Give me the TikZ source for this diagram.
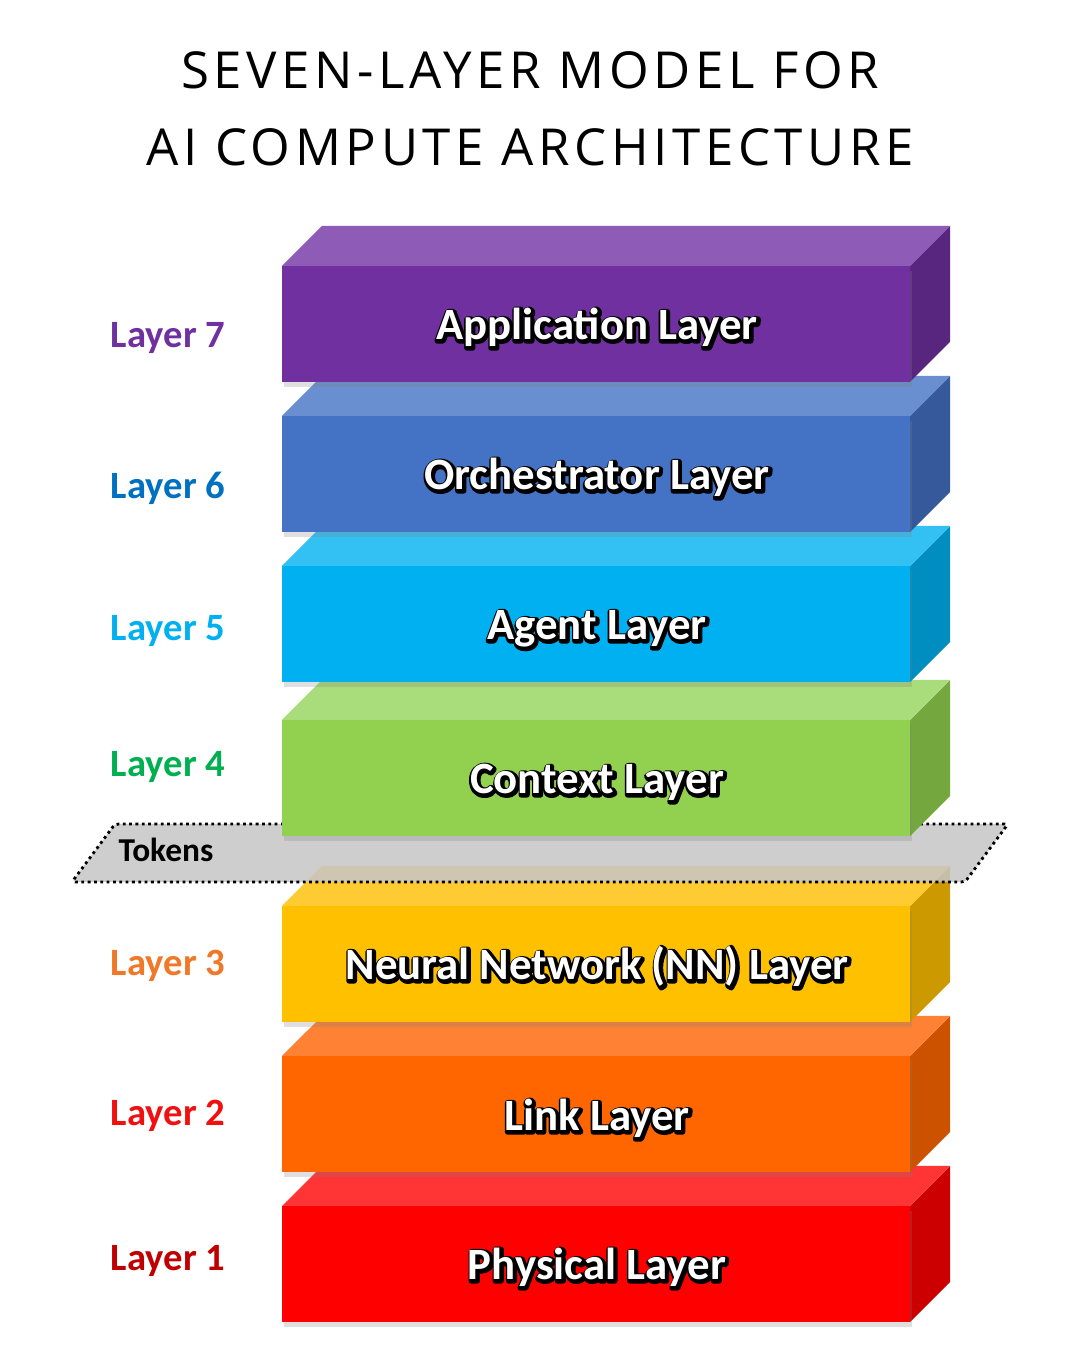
\documentclass[tikz,border=0pt]{standalone}
\usepackage{fontspec}
\setmainfont{Carlito}
\newfontfamily\titlefont[LetterSpace=9]{Open Sans}
\usepackage{tikz}
\usetikzlibrary{positioning, shadows, calc}

\definecolor{appfront}{HTML}{7030A0}\definecolor{apptop}{HTML}{8E5CB6}\definecolor{appside}{HTML}{59267F}
\definecolor{orcfront}{HTML}{4472C4}\definecolor{orctop}{HTML}{6A8FD1}\definecolor{orcside}{HTML}{35599A}
\definecolor{agtfront}{HTML}{00B0F0}\definecolor{agttop}{HTML}{33C1F4}\definecolor{agtside}{HTML}{008DC0}
\definecolor{ctxfront}{HTML}{92D050}\definecolor{ctxtop}{HTML}{A9DC7A}\definecolor{ctxside}{HTML}{74A83E}
\definecolor{nnfront}{HTML}{FFC000}\definecolor{nntop}{HTML}{FFCB33}\definecolor{nnside}{HTML}{CC9A00}
\definecolor{lnkfront}{HTML}{FF6600}\definecolor{lnktop}{HTML}{FF8133}\definecolor{lnkside}{HTML}{CC5200}
\definecolor{phyfront}{HTML}{FF0000}\definecolor{phytop}{HTML}{FF3535}\definecolor{physide}{HTML}{CC0000}
\definecolor{labseven}{HTML}{7030A0}\definecolor{labsix}{HTML}{0070C0}\definecolor{labfive}{HTML}{00B0F0}
\definecolor{labfour}{HTML}{00B050}\definecolor{labthree}{HTML}{F07828}\definecolor{labtwo}{HTML}{F01010}
\definecolor{labone}{HTML}{C00000}

% white text over a black stroked copy
\newcommand{\halotext}[1]{%
  \rlap{\kern0.5pt\raisebox{-0.5pt}{\color{black}%
    \special{pdf:literal direct 0 0 0 RG 3.2 w 1 j 1 Tr}#1%
    \special{pdf:literal direct 0 Tr}}}%
  {\color{white}#1}}

\begin{document}
\begin{tikzpicture}[
    layerlabel/.style={font=\fontsize{22}{26}\selectfont\bfseries, anchor=base},
    blocktext/.style={font=\fontsize{25.5}{30}\selectfont\bfseries, anchor=base},
    pics/slab/.style n args={3}{code={
        \fill[#3] (12.56,0) -- (13.36,0.8) -- (13.36,3.12) -- (12.56,2.32) -- cycle;
        \fill[#2] (0,2.32) -- (12.56,2.32) -- (13.36,3.12) -- (0.8,3.12) -- cycle;
        \fill[#1, drop shadow={shadow xshift=1pt, shadow yshift=-3pt, opacity=0.25}]
            (0,0) rectangle (12.56,2.32);
    }}
]
    \useasboundingbox (0,0) rectangle (21.6,27);

    % Title
    \node[font=\titlefont\fontsize{29}{43.7}\selectfont, align=center] (title) at (10.6, 24.83)
        {SEVEN-LAYER MODEL FOR\\AI COMPUTE ARCHITECTURE};

    % === Layer 1: Physical ===
    \pic at (5.64, 0.56) {slab={phyfront}{phytop}{physide}};
    \node[blocktext] (phy) at (11.94, 1.4) {\halotext{Physical Layer}};
    \node[layerlabel, text=labone] (l1) at (3.36, 1.58) {Layer 1};

    % === Layer 2: Link ===
    \pic at (5.64, 3.56) {slab={lnkfront}{lnktop}{lnkside}};
    \node[blocktext] (lnk) at (11.94, 4.38) {\halotext{Link Layer}};
    \node[layerlabel, text=labtwo] (l2) at (3.36, 4.48) {Layer 2};

    % === Layer 3: Neural Network ===
    \pic at (5.64, 6.56) {slab={nnfront}{nntop}{nnside}};
    \node[blocktext] (nn) at (11.94, 7.4) {\halotext{Neural Network (NN) Layer}};
    \node[layerlabel, text=labthree] (l3) at (3.36, 7.48) {Layer 3};

    % === Tokens plane ===
    \draw[fill=gray!45, fill opacity=0.85, dotted, line width=1.6pt, rounded corners=2pt]
        (1.44, 9.36) -- (2.30, 10.52) -- (20.16, 10.52) -- (19.30, 9.36) -- cycle;
    \node[font=\fontsize{19}{22}\selectfont\bfseries, anchor=base] (tokens) at (3.32, 9.76) {Tokens};

    % === Layer 4: Context ===
    \pic at (5.64, 10.28) {slab={ctxfront}{ctxtop}{ctxside}};
    \node[blocktext] (ctx) at (11.94, 11.12) {\halotext{Context Layer}};
    \node[layerlabel, text=labfour] (l4) at (3.36, 11.46) {Layer 4};

    % === Layer 5: Agent ===
    \pic at (5.64, 13.36) {slab={agtfront}{agttop}{agtside}};
    \node[blocktext] (agt) at (11.94, 14.2) {\halotext{Agent Layer}};
    \node[layerlabel, text=labfive] (l5) at (3.36, 14.18) {Layer 5};

    % === Layer 6: Orchestrator ===
    \pic at (5.64, 16.36) {slab={orcfront}{orctop}{orcside}};
    \node[blocktext] (orc) at (11.94, 17.2) {\halotext{Orchestrator Layer}};
    \node[layerlabel, text=labsix] (l6) at (3.36, 17.02) {Layer 6};

    % === Layer 7: Application ===
    \pic at (5.64, 19.36) {slab={appfront}{apptop}{appside}};
    \node[blocktext] (app) at (11.94, 20.2) {\halotext{Application Layer}};
    \node[layerlabel, text=labseven] (l7) at (3.36, 20.04) {Layer 7};

\end{tikzpicture}
\end{document}
